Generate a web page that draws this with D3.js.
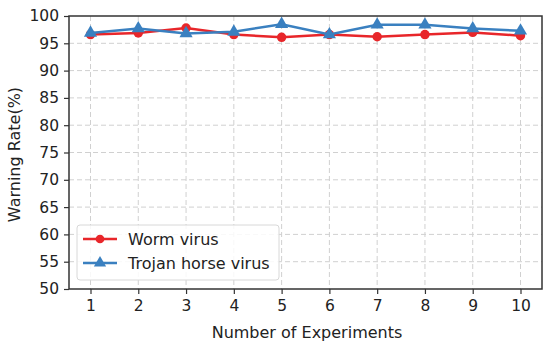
<!DOCTYPE html>
<html lang="en">
<head>
  <meta charset="UTF-8">
  <title>Warning rate</title>
  <script src="https://d3js.org/d3.v7.min.js"></script>
  <style>
    body { margin: 0; background: #fff; }
    text { font-family: "DejaVu Sans", sans-serif; fill: #222; }
  </style>
</head>
<body>
<script type="text/javascript">
    var experiments = [1, 2, 3, 4, 5, 6, 7, 8, 9, 10];
    var wormVirus = [96.6, 96.9, 97.8, 96.6, 96.1, 96.6, 96.2, 96.6, 97.0, 96.4];
    var trojanVirus = [96.9, 97.7, 96.8, 97.1, 98.5, 96.6, 98.4, 98.4, 97.7, 97.3];
    var yTicks = [50, 55, 60, 65, 70, 75, 80, 85, 90, 95, 100];
    var seriesNames = ["Worm virus", "Trojan horse virus"];

    var width = 550, height = 350;
    var plotL = 69, plotR = 542, plotT = 16, plotB = 289;

    var svg = d3.select("body").append("svg")
                .attr("width", width)
                .attr("height", height);

    var x = d3.scaleLinear().domain([0.55, 10.45]).range([plotL, plotR]);
    var y = d3.scaleLinear().domain([50, 100]).range([plotB, plotT]);

    // grid
    svg.append("g").selectAll("line")
       .data(experiments)
       .enter().append("line")
       .attr("x1", function(d){ return x(d); })
       .attr("x2", function(d){ return x(d); })
       .attr("y1", plotT).attr("y2", plotB)
       .attr("stroke", "#d0d0d0").attr("stroke-width", 1)
       .attr("stroke-dasharray", "5,3");
    svg.append("g").selectAll("line")
       .data(yTicks.slice(1, -1))
       .enter().append("line")
       .attr("y1", function(d){ return y(d); })
       .attr("y2", function(d){ return y(d); })
       .attr("x1", plotL).attr("x2", plotR)
       .attr("stroke", "#d0d0d0").attr("stroke-width", 1)
       .attr("stroke-dasharray", "5,3");

    // axes
    var xAxis = svg.append("g")
       .attr("transform", "translate(0," + plotB + ")")
       .call(d3.axisBottom(x).tickValues(experiments).tickSize(5).tickPadding(6).tickFormat(d3.format("d")));
    var yAxis = svg.append("g")
       .attr("transform", "translate(" + plotL + ",0)")
       .call(d3.axisLeft(y).tickValues(yTicks).tickSize(5).tickPadding(5));
    [xAxis, yAxis].forEach(function(a){
      a.selectAll("text").style("font-size", "15.5px").attr("fill", "#222");
      a.selectAll("line").attr("stroke", "#333").attr("stroke-width", 1.2);
      a.select(".domain").remove();
    });

    // frame
    svg.append("rect")
       .attr("x", plotL).attr("y", plotT)
       .attr("width", plotR - plotL).attr("height", plotB - plotT)
       .attr("fill", "none").attr("stroke", "#333").attr("stroke-width", 1.5);

    // labels
    svg.append("text")
       .attr("x", 307).attr("y", 338)
       .attr("text-anchor", "middle").style("font-size", "16px")
       .text("Number of Experiments");
    svg.append("text")
       .attr("transform", "translate(20," + ((plotT + plotB) / 2 + 2) + ") rotate(-90)")
       .attr("text-anchor", "middle").style("font-size", "16px")
       .text("Warning Rate(%)");

    var colors = ["#e8262a", "#3a80c0"];
    var line = d3.line()
       .x(function(d, i){ return x(experiments[i]); })
       .y(function(d){ return y(d); });

    [wormVirus, trojanVirus].forEach(function(vals, k){
      svg.append("path")
         .datum(vals)
         .attr("d", line)
         .attr("fill", "none")
         .attr("stroke", colors[k])
         .attr("stroke-width", 2.5);
      svg.append("g").selectAll("path")
         .data(vals)
         .enter().append("path")
         .attr("transform", function(d, i){ return "translate(" + x(experiments[i]) + "," + y(d) + ")"; })
         .attr("d", d3.symbol().type(k == 0 ? d3.symbolCircle : d3.symbolTriangle).size(k == 0 ? 70 : 75))
         .attr("fill", colors[k]);
    });

    // legend
    var lg = svg.append("g").attr("transform", "translate(77,225)");
    lg.append("rect")
      .attr("width", 202).attr("height", 55).attr("rx", 3)
      .attr("fill", "#fff").attr("fill-opacity", 0.85)
      .attr("stroke", "#d8d8d8");
    seriesNames.forEach(function(name, k){
      var ly = 14 + k * 24;
      lg.append("line")
        .attr("x1", 6).attr("x2", 40).attr("y1", ly).attr("y2", ly)
        .attr("stroke", colors[k]).attr("stroke-width", 2.5);
      lg.append("path")
        .attr("transform", "translate(23," + ly + ")")
        .attr("d", d3.symbol().type(k == 0 ? d3.symbolCircle : d3.symbolTriangle).size(k == 0 ? 60 : 65))
        .attr("fill", colors[k]);
      lg.append("text")
        .attr("x", 51).attr("y", ly + 5.5)
        .style("font-size", "16px")
        .text(name);
    });
</script>
</body>
</html>
